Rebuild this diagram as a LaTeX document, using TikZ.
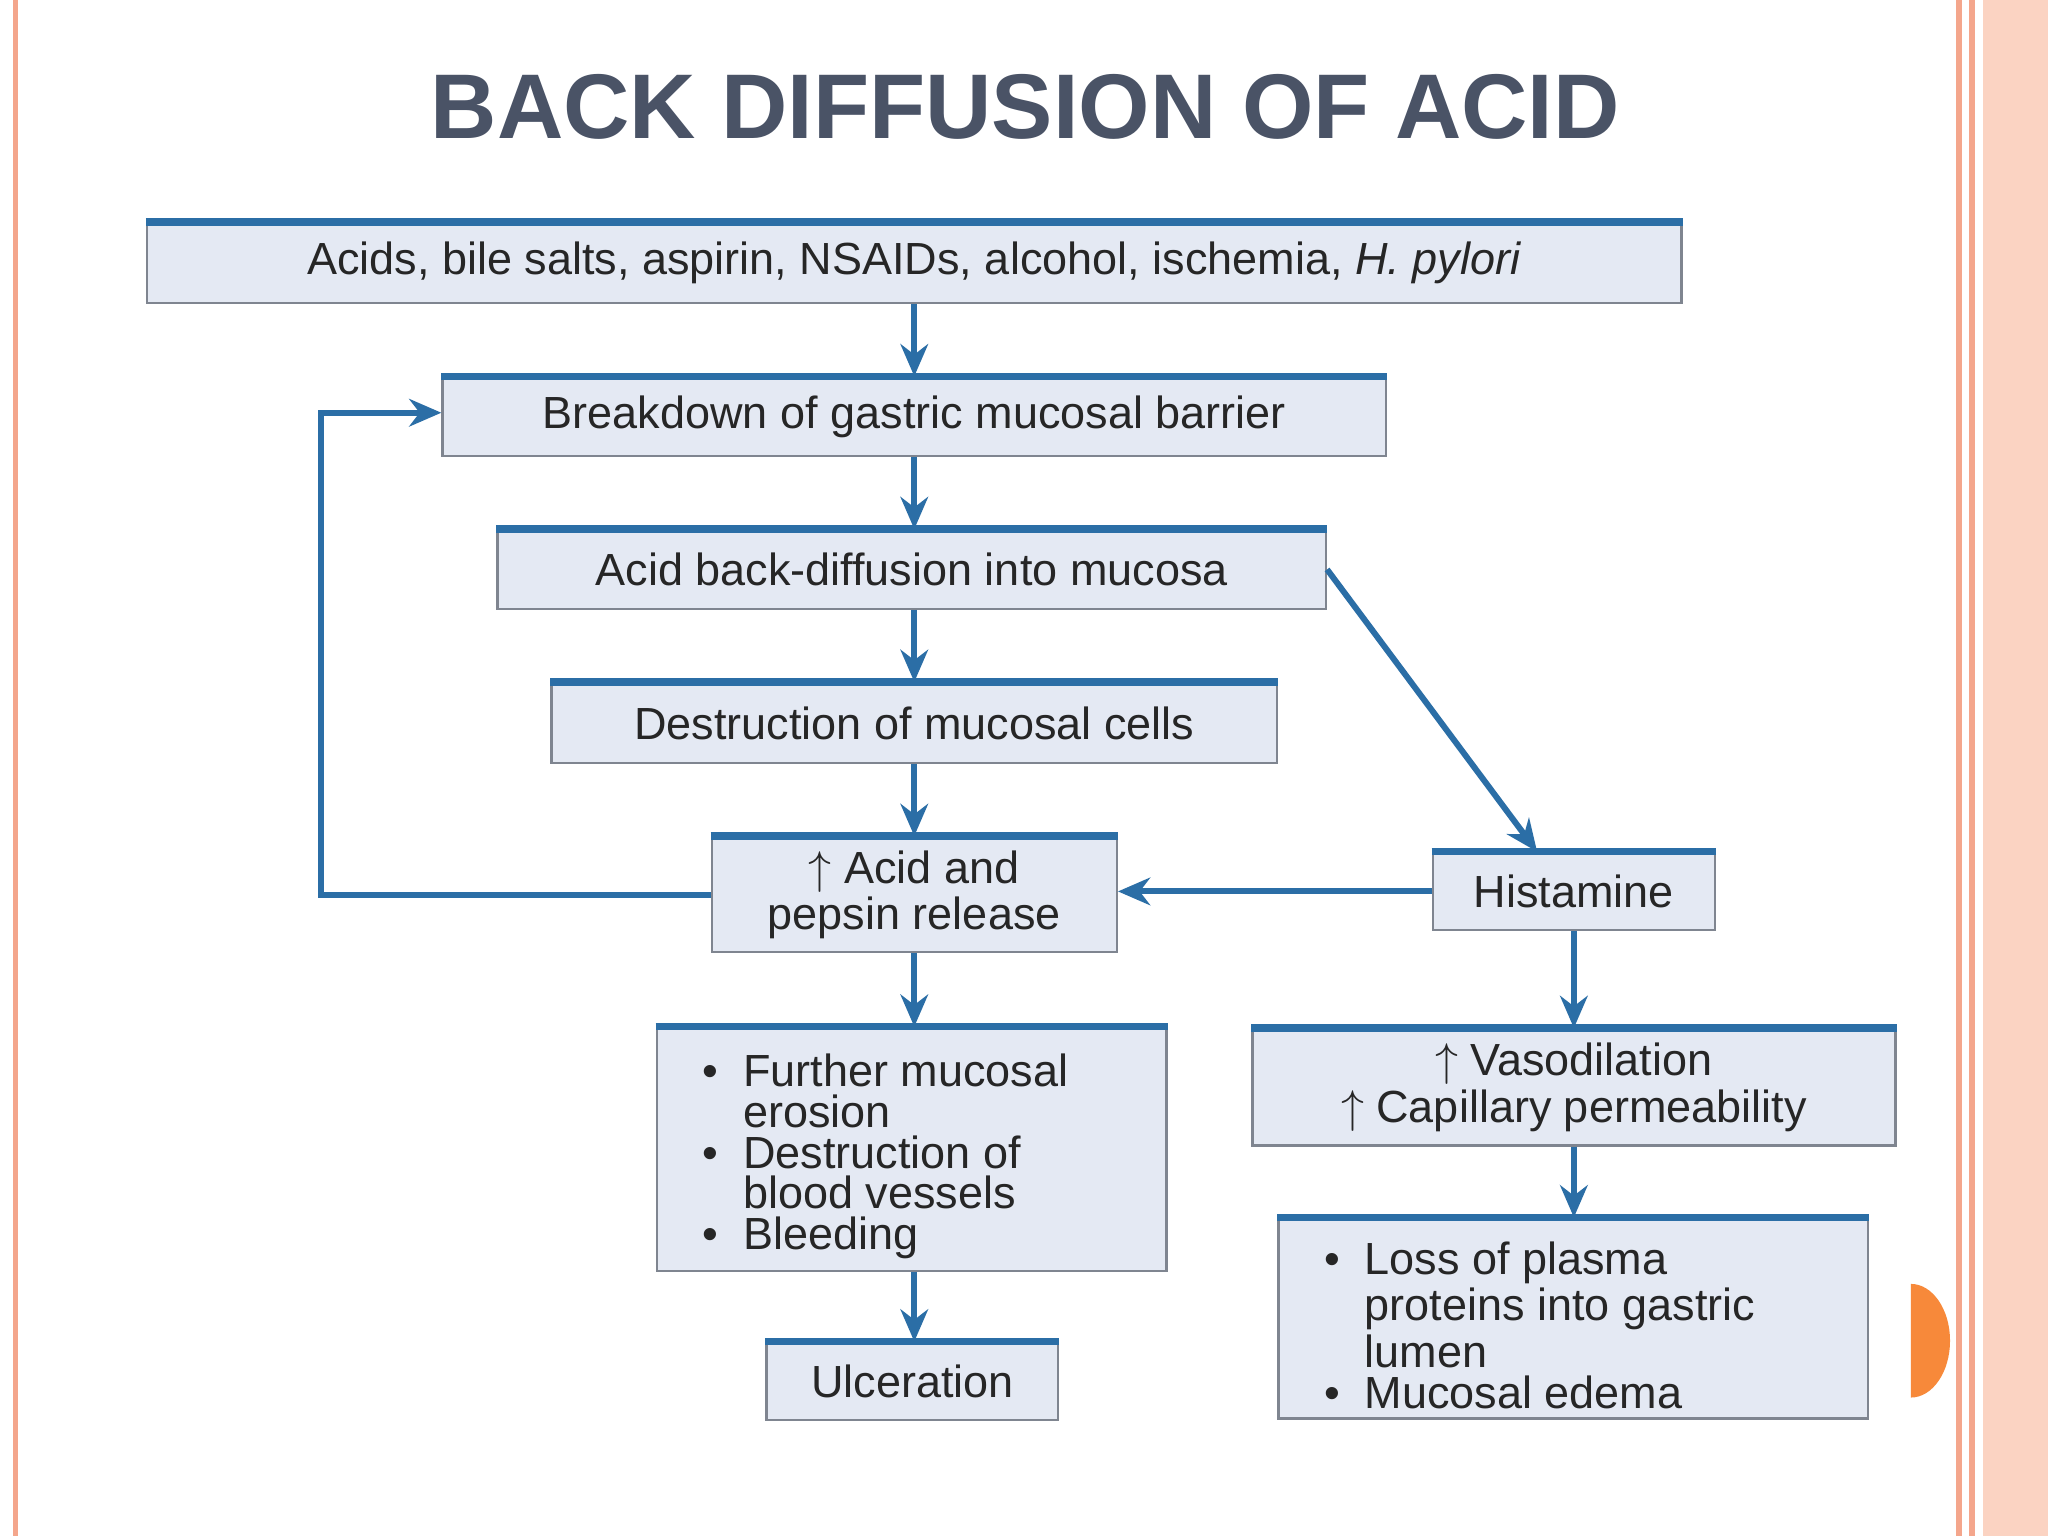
\documentclass[tikz,border=0pt]{standalone}
\usepackage{fontspec}
\setmainfont{Liberation Sans}
\usetikzlibrary{arrows.meta}
\definecolor{fillb}{HTML}{E4E9F3}
\definecolor{edgeg}{HTML}{7F8590}
\definecolor{blu}{HTML}{2B6EA6}
\definecolor{ttl}{HTML}{4A5366}
\definecolor{salm}{HTML}{F4A68C}
\definecolor{peach}{HTML}{FBD3C2}
\definecolor{orng}{HTML}{F7893A}
\begin{document}
\begin{tikzpicture}[x=0.01cm,y=-0.01cm,
 box/.style={draw=edgeg,line width=0.5pt,fill=fillb,inner sep=0pt,font=\fontsize{9.8}{8.9}\selectfont,text=black!85},
 btxt/.style={anchor=north west,font=\fontsize{9.8}{8.9}\selectfont,text=black!85,align=left,inner sep=0pt},
 arr/.style={draw=blu,line width=1.3pt,-{Stealth[length=7pt,width=6pt]}},
 tl/.style={draw=blu,line width=1.6pt}]
\useasboundingbox (0,0) rectangle (1568,1176);
\fill[white] (0,0) rectangle (1568,1176);
\draw[salm,line width=1pt] (12,0)--(12,1176);
\fill[peach] (1518,0) rectangle (1568,1176);
\draw[salm,line width=1.2pt] (1500,0)--(1500,1176);
\draw[salm,line width=1.2pt] (1510,0)--(1510,1176);
\fill[orng] (1463,983) arc[start angle=-90,end angle=90,x radius=30,y radius=43.5] -- cycle;
\node[font=\bfseries\fontsize{20}{24}\selectfont,text=ttl] (title) at (785,82) {BACK DIFFUSION OF ACID};
\node[box,minimum width=11.74cm,minimum height=0.61cm] (a) at (700,201.5) {Acids, bile salts, aspirin, NSAIDs, alcohol, ischemia, \textit{H. pylori}};
\node[box,minimum width=7.22cm,minimum height=0.60cm] (b) at (700,319) {Breakdown of gastric mucosal barrier};
\node[box,minimum width=6.34cm,minimum height=0.60cm] (c) at (698,436) {Acid back-diffusion into mucosa};
\node[box,minimum width=5.55cm,minimum height=0.61cm] (d) at (700,553.5) {Destruction of mucosal cells};
\node[box,minimum width=3.10cm,minimum height=0.88cm,align=center] (e) at (700,685) {$\uparrow$ Acid and\\pepsin release};
\node[box,minimum width=2.16cm,minimum height=0.59cm] (h) at (1205,682.5) {Histamine};
\node[box,minimum width=3.90cm,minimum height=1.86cm] (f) at (698,880) {};
\node[btxt] (ft) at (537,806) {%
\textbullet\ \ Further mucosal\\\phantom{\textbullet\ \ }erosion\\\textbullet\ \ Destruction of\\\phantom{\textbullet\ \ }blood vessels\\\textbullet\ \ Bleeding};
\node[box,minimum width=4.92cm,minimum height=0.89cm,align=center] (v) at (1205,832.5) {$\uparrow$ Vasodilation\\$\uparrow$ Capillary permeability};
\node[box,minimum width=2.23cm,minimum height=0.59cm] (u) at (698.5,1057.5) {Ulceration};
\node[box,minimum width=4.51cm,minimum height=1.53cm] (l) at (1204.5,1009.5) {};
\node[btxt] (lt) at (1013,950) {%
\textbullet\ \ Loss of plasma\\\phantom{\textbullet\ \ }proteins into gastric\\\phantom{\textbullet\ \ }lumen\\\textbullet\ \ Mucosal edema};
\foreach \n in {a,b,c,d,e,h,f,v,u,l}{\draw[tl] (\n.north west)--(\n.north east);}
\draw[arr] (a.south -| e.north)--(b.north -| e.north);
\draw[arr] (b.south -| e.north)--(c.north -| e.north);
\draw[arr] (c.south -| e.north)--(d.north -| e.north);
\draw[arr] (d.south -| e.north)--(e.north);
\draw[arr] (e.south)--(f.north -| e.south);
\draw[arr] (f.south -| e.south)--(u.north -| e.south);
\draw[arr] (h.south)--(v.north -| h.south);
\draw[arr] (v.south -| h.south)--(l.north -| h.south);
\draw[arr] (h.west)--(h.west -| e.east);
\draw[arr] (c.east)--([xshift=-8]h.north);
\coordinate (p1) at (246,685);
\coordinate (p2) at (246,316);
\draw[arr] (e.west)--(p1)--(p2)--(b.west|-p2);
\end{tikzpicture}
\end{document}
